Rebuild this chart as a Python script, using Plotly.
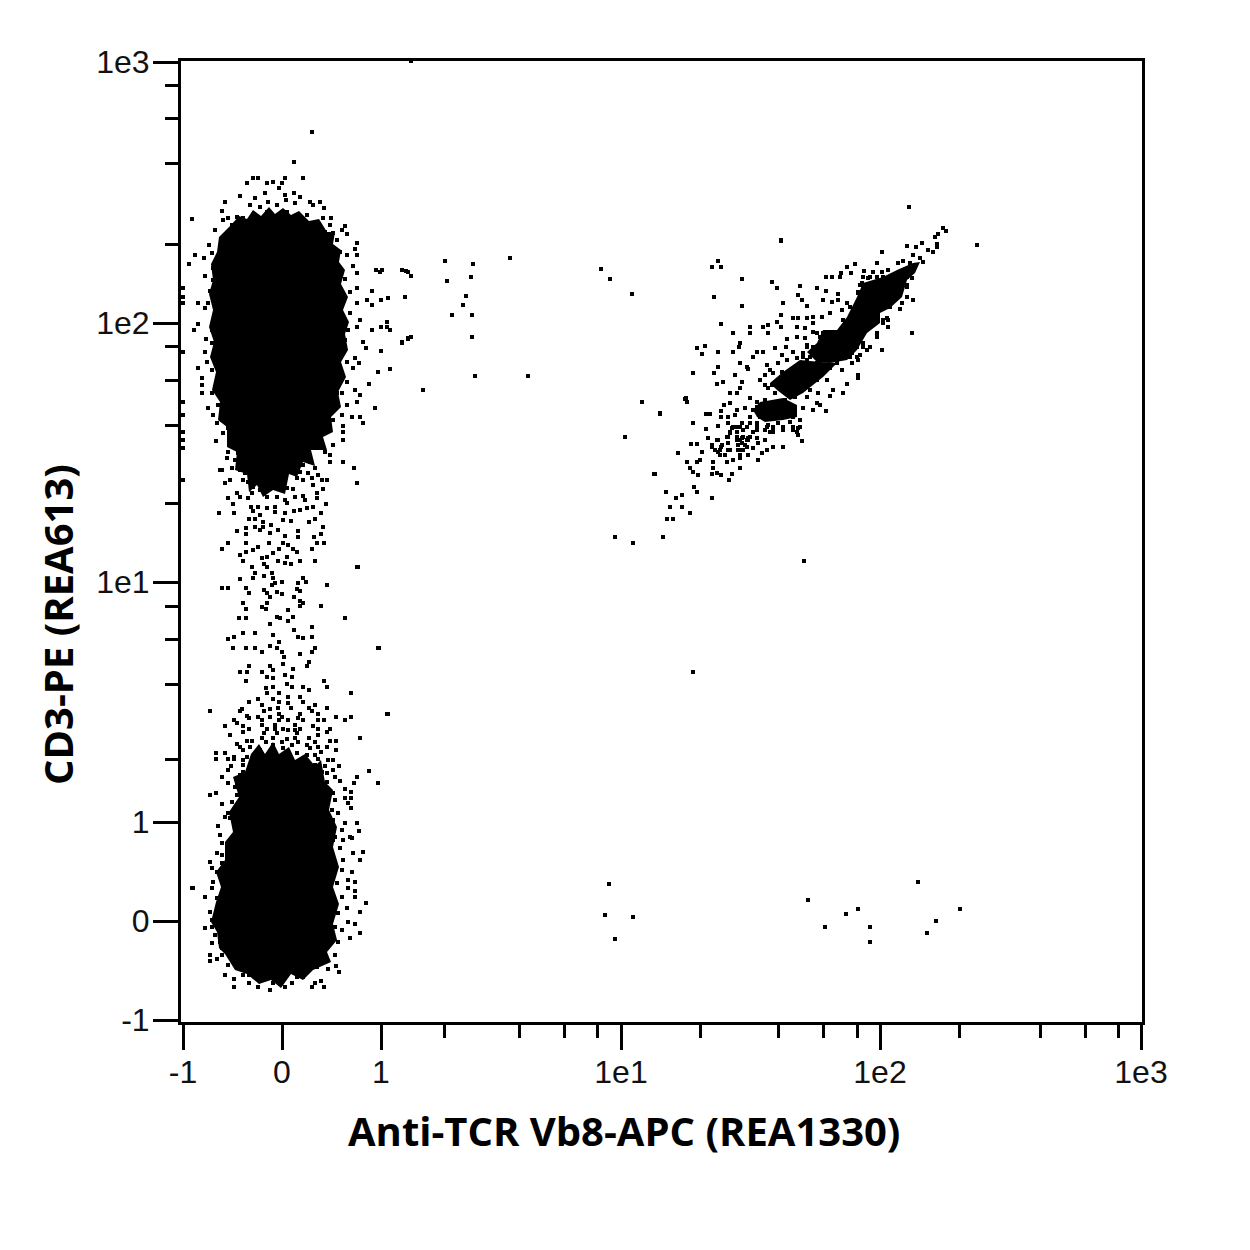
import plotly.graph_objects as go

# All coordinates are display channels of the biexponential cytometry scale (0..961 on both axes)
AXIS_RANGE = [0, 961]
MAJOR_TICKS = [2, 101, 200, 440, 699, 960]
MAJOR_LABELS = ["-1", "0", "1", "1e1", "1e2", "1e3"]
MINOR_TICKS = [263, 338, 383, 416, 519, 597, 642, 676, 778, 859, 904, 937]
X_TITLE = "Anti-TCR Vb8-APC (REA1330)"
Y_TITLE = "CD3-PE (REA613)"

# Saturated cores, outlines
CORE_UPPER = [(50,797),(58,806),(66,803),(72,812),(80,806),(88,815),(94,808),(102,814),(110,807),(118,811),(128,801),(138,803),(146,790),(154,790),(152,778),(160,772),(158,760),(164,752),(160,738),(167,725),(162,712),(168,700),(164,688),(167,672),(160,660),(165,645),(157,630),(160,615),(150,605),(152,590),(142,585),(146,572),(130,572),(134,556),(122,560),(116,545),(108,548),(104,528),(92,532),(82,525),(76,537),(68,530),(66,548),(54,552),(56,570),(46,575),(46,595),(37,602),(39,620),(31,632),(35,650),(29,665),(33,680),(28,695),(32,712),(28,728),(32,742),(30,758),(36,770),(38,785)]
CORE_LOWER = [(70,268),(78,278),(84,268),(92,280),(98,268),(108,275),(114,262),(124,268),(134,256),(140,262),(144,240),(152,232),(148,212),(156,195),(152,175),(158,155),(152,135),(158,118),(152,98),(156,82),(146,70),(150,60),(132,52),(122,42),(110,48),(100,34),(90,42),(78,38),(66,48),(54,52),(44,68),(38,74),(36,90),(30,100),(35,120),(40,135),(35,150),(44,162),(44,180),(52,190),(48,210),(58,225),(52,245),(64,250)]
CORE_DIAGONAL = [(626,670),(636,679),(642,692),(656,692),(666,705),(676,725),(682,739),(702,745),(716,752),(732,759),(739,760),(734,749),(726,742),(721,725),(709,714),(699,709),(699,699),(686,689),(676,672),(666,662),(649,659),(636,660)]
CORE_DIAGONAL_LOW = [(602,650),(619,662),(639,660),(656,659),(642,645),(622,629),(609,622),(596,632),(589,639)]
CORE_DIAGONAL_TAIL = [(572,612),(579,620),(602,624),(616,617),(616,605),(602,602),(584,600),(576,605)]

EVENTS_UPPER = [(113,860),(72,844),(77,844),(104,844),(122,844),(66,839),(86,839),(92,840),(101,839),(98,834),(59,826),(84,829),(104,827),(113,829),(119,825),(44,820),(74,824),(87,820),(105,822),(129,820),(139,820),(41,811),(69,817),(79,815),(96,817),(114,819),(132,817),(143,814),(11,803),(47,804),(56,805),(62,804),(72,807),(86,810),(106,810),(126,807),(142,804),(150,804),(42,802),(51,797),(34,792),(149,797),(164,796),(144,790),(152,789),(161,792),(166,788),(42,782),(28,777),(176,779),(174,773),(156,782),(159,770),(14,767),(23,764),(31,769),(44,769),(166,767),(176,767),(8,758),(32,754),(172,756),(195,752),(201,752),(221,752),(176,749),(24,746),(32,742),(230,746),(164,743),(176,734),(29,731),(191,731),(169,730),(224,725),(200,722),(186,722),(191,717),(176,719),(17,719),(27,719),(24,714),(161,719),(169,709),(179,702),(17,698),(206,700),(200,695),(206,695),(13,692),(31,692),(176,695),(167,692),(191,692),(230,685),(227,683),(221,680),(182,680),(25,683),(31,679),(164,682),(185,674),(200,671),(24,670),(161,670),(174,664),(178,659),(166,660),(26,660),(34,665),(17,654),(31,652),(209,653),(197,650),(172,654),(21,644),(161,645),(166,640),(188,638),(21,637),(174,632),(21,629),(31,629),(179,627),(156,629),(2,734),(2,725),(2,719),(2,670),(2,620),(2,607),(2,590),(2,582),(2,574),(2,542)]
EVENTS_BRIDGE = [(27,614),(32,607),(37,617),(36,599),(41,602),(42,589),(35,581),(47,594),(51,579),(47,570),(46,564),(59,577),(57,569),(66,569),(76,565),(54,562),(62,562),(69,557),(51,554),(39,552),(41,552),(59,552),(76,555),(86,550),(92,552),(64,549),(49,542),(62,542),(67,540),(79,544),(89,544),(44,539),(137,623),(152,625),(161,629),(176,620),(166,617),(194,614),(152,612),(142,610),(161,607),(171,605),(179,605),(182,599),(152,602),(142,599),(162,596),(162,590),(162,582),(132,599),(136,592),(142,590),(139,582),(122,581),(152,577),(144,570),(149,567),(149,560),(162,560),(173,554),(176,539),(116,575),(111,574),(132,575),(126,569),(116,562),(107,562),(129,560),(112,555),(122,557),(134,554),(107,550),(119,550),(127,549),(137,547),(116,544),(122,542),(131,544),(141,542),(146,542),(132,537),(142,533),(112,533),(72,535),(82,539),(92,535),(106,534),(56,529),(71,529),(79,532),(86,525),(96,525),(104,522),(47,524),(59,525),(67,524),(114,525),(122,526),(136,529),(136,524),(124,522),(52,518),(70,515),(77,515),(86,514),(94,515),(106,519),(145,518),(132,515),(126,514),(119,512),(113,511),(38,509),(53,509),(72,511),(79,507),(94,510),(104,509),(140,509),(68,503),(74,503),(82,500),(102,502),(110,501),(128,500),(134,503),(65,494),(56,491),(74,495),(82,495),(90,497),(97,492),(117,491),(142,495),(65,488),(79,492),(89,489),(104,486),(117,485),(133,485),(140,488),(47,479),(65,479),(88,479),(102,479),(107,477),(136,479),(143,479),(41,473),(77,475),(72,472),(98,473),(112,473),(116,470),(131,473),(65,470),(92,469),(59,467),(86,465),(106,465),(81,464),(62,461),(97,461),(104,459),(110,458),(119,461),(134,461),(83,458),(176,455),(71,455),(86,455),(74,449),(91,449),(72,444),(83,446),(92,444),(122,444),(59,443),(94,439),(101,440),(117,439),(125,440),(91,437),(41,434),(47,434),(65,434),(83,432),(96,430),(116,433),(146,437),(68,429),(86,429),(101,428),(119,431),(89,425),(113,425),(119,421),(62,419),(86,419),(122,419),(81,415),(119,416),(140,416),(65,413),(85,413),(107,412),(96,405),(112,405),(58,404),(65,404),(99,404),(107,401),(164,404),(89,398),(131,395),(113,392),(62,389),(74,389),(92,387),(117,385),(122,384),(131,385),(53,385),(47,383),(98,380),(89,376),(52,374),(65,374),(74,374),(96,374),(134,374),(197,374),(81,370),(101,370),(131,370),(103,365),(119,368),(128,360),(68,356),(89,356),(102,358),(126,356),(59,350),(66,350),(81,350),(92,352),(112,353),(86,345),(104,347),(111,345),(92,344),(65,341),(143,341),(106,338),(111,335),(146,335),(85,334),(92,335),(122,335),(128,332),(86,329),(98,329),(170,329),(107,325),(119,325),(77,323),(92,323),(122,320),(68,320),(98,320),(107,319),(81,317),(134,317),(61,313),(89,313),(97,314),(110,314),(128,314),(146,314),(29,311),(59,311),(83,311),(131,311),(206,308),(98,308),(119,308),(137,308),(66,306),(68,304),(77,305),(89,305),(101,305),(117,304),(155,305),(170,305),(53,302),(81,302),(98,302),(107,302),(122,302),(137,302),(143,302),(164,302)]
EVENTS_LOWER = [(56,299),(81,297),(94,297),(114,297),(44,296),(62,296),(132,296),(68,293),(86,293),(94,293),(102,293),(107,292),(114,292),(119,293),(137,293),(149,293),(62,290),(83,289),(96,289),(116,289),(146,290),(49,287),(137,287),(81,284),(92,284),(106,283),(114,284),(128,284),(179,284),(66,281),(71,281),(85,280),(101,280),(117,280),(134,280),(149,281),(155,281),(56,278),(92,277),(111,277),(126,277),(137,275),(146,275),(59,275),(69,275),(79,272),(102,274),(129,274),(155,272),(62,272),(140,270),(35,269),(44,269),(79,267),(92,269),(107,269),(116,269),(126,267),(134,267),(53,265),(66,265),(35,263),(47,263),(62,262),(74,262),(107,264),(122,263),(137,263),(147,262),(152,262),(53,263),(62,257),(69,257),(86,259),(101,259),(107,256),(122,257),(134,257),(144,256),(158,256),(50,256),(47,252),(62,250),(71,250),(77,249),(141,250),(152,252),(188,251),(41,245),(59,247),(146,249),(154,245),(176,245),(47,239),(56,239),(66,242),(77,239),(146,240),(159,241),(173,239),(197,239),(71,237),(83,235),(54,235),(142,235),(164,233),(35,229),(29,227),(56,227),(81,229),(152,229),(170,230),(170,224),(164,224),(41,218),(51,220),(154,222),(146,219),(167,219),(170,214),(47,209),(44,205),(49,204),(59,209),(151,212),(157,209),(37,196),(54,197),(176,199),(164,199),(152,202),(161,192),(178,191),(39,187),(151,194),(51,184),(154,185),(169,185),(41,179),(49,179),(36,169),(41,167),(52,164),(29,160),(41,159),(47,157),(31,154),(36,150),(32,140),(44,142),(11,134),(31,134),(24,125),(36,124),(41,117),(29,110),(39,110),(31,102),(39,99),(24,94),(31,95),(34,87),(31,79),(39,80),(41,74),(51,74),(29,67),(41,67),(56,65),(29,61),(36,63),(47,57),(44,47),(53,43),(53,35),(62,47),(68,47),(68,39),(77,35),(89,32),(92,39),(98,42),(104,35),(111,39),(116,45),(122,45),(131,35),(140,41),(143,35),(134,39),(158,50),(155,56),(147,53),(136,55),(154,67),(142,72),(152,182),(162,182),(171,184),(159,174),(149,169),(172,169),(182,170),(179,162),(162,162),(152,159),(171,150),(161,152),(167,142),(174,140),(156,139),(167,134),(149,131),(174,131),(161,125),(174,125),(185,119),(166,114),(146,114),(179,110),(157,109),(167,100),(174,98),(154,95),(161,92),(179,89),(169,84),(157,80),(149,85),(146,75)]
EVENTS_SPARSE = [(230,961),(131,890),(225,751),(264,761),(266,741),(292,758),(290,745),(329,764),(285,726),(282,717),(271,707),(291,707),(291,685),(420,753),(429,743),(451,728),(294,646),(347,646),(242,632),(227,684),(221,679),(207,724),(199,750),(227,750),(209,692),(461,620),(479,609),(505,624),(444,585),(474,548),(434,485),(452,479),(482,485),(512,350),(623,461),(177,455),(198,374),(207,308),(29,311),(12,134),(428,138),(424,107),(452,105),(434,83),(627,122),(644,95),(665,108),(677,113),(689,95),(689,80),(737,140),(755,101),(746,89),(779,113),(796,777),(728,815),(600,782)]
EVENTS_DIAGONAL = [(762,794),(765,791),(757,788),(754,785),(756,778),(756,775),(741,779),(735,775),(726,776),(747,772),(752,770),(701,770),(732,767),(739,764),(742,760),(722,761),(717,759),(729,759),(696,759),(674,758),(666,755),(670,749),(660,749),(659,745),(651,745),(645,745),(683,751),(692,750),(701,750),(707,752),(714,747),(687,744),(681,739),(722,747),(731,744),(726,735),(677,730),(619,736),(636,734),(645,731),(657,728),(617,727),(596,734),(591,740),(561,743),(600,781),(537,761),(531,755),(540,755),(533,725),(561,716),(602,719),(621,722),(626,716),(642,722),(651,720),(657,722),(666,719),(732,722),(726,725),(719,713),(721,719),(569,695),(582,695),(587,697),(569,689),(587,689),(600,695),(600,707),(596,700),(540,698),(552,689),(612,704),(617,704),(626,704),(632,705),(641,705),(649,709),(661,712),(616,695),(624,694),(632,699),(632,690),(639,685),(616,685),(624,684),(626,677),(606,683),(605,675),(594,674),(559,679),(558,675),(552,670),(516,674),(524,676),(521,668),(537,670),(582,670),(576,670),(572,665),(601,667),(612,670),(622,669),(629,665),(701,672),(686,672),(682,679),(676,675),(671,669),(679,667),(696,685),(707,695),(702,699),(706,704),(731,689),(677,662),(671,659),(656,659),(642,657),(636,659),(626,662),(616,664),(606,662),(597,659),(586,657),(589,652),(584,647),(559,659),(566,655),(567,653),(537,655),(512,649),(533,649),(554,647),(592,649),(601,650),(609,647),(619,652),(629,654),(639,650),(649,654),(661,652),(677,647),(677,644),(579,642),(542,640),(536,638),(561,640),(559,634),(549,629),(556,629),(584,637),(591,637),(597,639),(606,642),(616,642),(626,645),(636,642),(646,642),(666,638),(652,632),(662,629),(649,626),(637,629),(629,632),(621,637),(612,635),(602,632),(594,629),(587,634),(569,624),(576,620),(584,622),(594,620),(604,622),(614,625),(626,625),(636,619),(639,617),(504,623),(506,620),(549,619),(543,617),(556,612),(564,614),(572,612),(576,615),(586,614),(594,612),(602,614),(612,615),(622,614),(632,612),(645,611),(525,608),(529,608),(479,608),(540,611),(540,605),(547,605),(554,607),(569,605),(579,605),(584,603),(592,607),(604,607),(612,605),(619,602),(512,599),(537,596),(547,599),(561,599),(569,599),(576,599),(587,597),(597,599),(609,600),(617,594),(525,593),(551,594),(556,595),(562,592),(576,592),(584,592),(592,592),(602,592),(612,592),(549,589),(617,587),(527,584),(537,582),(547,585),(556,584),(561,584),(567,584),(576,584),(584,582),(621,581),(510,578),(516,578),(540,575),(531,575),(547,579),(561,579),(566,575),(577,579),(602,575),(592,575),(586,572),(521,570),(497,569),(537,570),(547,572),(559,572),(572,574),(581,569),(506,560),(516,560),(519,562),(532,560),(546,560),(552,562),(559,564),(577,562),(559,554),(509,554),(532,554),(512,550),(536,549),(540,547),(531,548),(517,547),(551,548),(548,542),(473,548),(513,535),(516,530),(485,530),(501,527),(495,524),(531,524),(489,515),(501,515),(509,509),(486,503),(492,503),(482,485)]
EVENTS_DIAGONAL_DENSE = [(552,595),(559,595),(566,595),(576,595),(586,595),(592,595),(602,595),(612,595),(619,595),(549,590),(556,590),(572,590),(589,590),(592,590),(616,590),(546,585),(556,585),(562,585),(569,585),(536,582),(556,582),(559,582),(566,582),(567,582),(531,577),(541,577),(557,577),(564,577),(534,572),(539,572),(549,572),(557,572),(562,572),(539,567),(544,567),(559,567),(567,567),(682,745),(689,745),(696,745),(702,745),(709,745),(719,745),(726,745),(679,737),(686,737),(696,737),(709,737),(719,737),(726,737),(677,729),(686,729),(692,729),(717,729),(669,715),(676,715),(686,715),(702,715),(709,715),(662,702),(672,702),(702,702),(707,702),(636,689),(642,689),(696,689),(626,675),(632,675),(682,675),(689,675),(622,665),(629,665),(669,665),(676,665)]

fig = go.Figure()

for core in (CORE_UPPER, CORE_LOWER, CORE_DIAGONAL, CORE_DIAGONAL_LOW, CORE_DIAGONAL_TAIL):
    fig.add_trace(go.Scatter(
        x=[p[0] for p in core] + [core[0][0]],
        y=[p[1] for p in core] + [core[0][1]],
        mode="lines", fill="toself", fillcolor="black",
        line=dict(width=0, color="black"), hoverinfo="skip", showlegend=False))

for events in (EVENTS_UPPER, EVENTS_BRIDGE, EVENTS_LOWER, EVENTS_SPARSE, EVENTS_DIAGONAL, EVENTS_DIAGONAL_DENSE):
    fig.add_trace(go.Scatter(
        x=[p[0] for p in events], y=[p[1] for p in events],
        mode="markers",
        marker=dict(symbol="square", size=4, color="black", line=dict(width=0)),
        hoverinfo="skip", showlegend=False))

axis_style = dict(
    range=AXIS_RANGE, showgrid=False, zeroline=False,
    showline=True, mirror=True, linecolor="black", linewidth=3,
    tickmode="array", tickvals=MAJOR_TICKS, ticktext=MAJOR_LABELS,
    ticks="outside", ticklen=25, tickwidth=3, tickcolor="black",
    tickfont=dict(family="Liberation Sans", size=32, color="#111111"),
    minor=dict(tickmode="array", tickvals=MINOR_TICKS, ticks="outside",
               ticklen=13, tickwidth=3, tickcolor="black", showgrid=False),
)
fig.update_xaxes(ticklabelstandoff=-5, **axis_style)
fig.update_yaxes(ticklabelstandoff=-3, **axis_style)

title_font = dict(family="Open Sans", size=40, color="black")
fig.update_layout(
    width=1250, height=1250, autosize=False,
    paper_bgcolor="white", plot_bgcolor="white",
    margin=dict(l=181, r=108, t=61, b=228),
    showlegend=False,
    annotations=[
        dict(text=f"<b>{X_TITLE}</b>", xref="x", yref="paper", x=443, y=-0.1134,
             xanchor="center", yanchor="middle", showarrow=False, font=title_font),
        dict(text=f"<b>{Y_TITLE}</b>", xref="paper", yref="y", x=-0.129, y=397,
             xanchor="center", yanchor="middle", textangle=-90, showarrow=False, font=title_font),
    ],
)

fig.write_html("out.html", config={"displayModeBar": False},
               post_script="document.body.style.margin='0';")
